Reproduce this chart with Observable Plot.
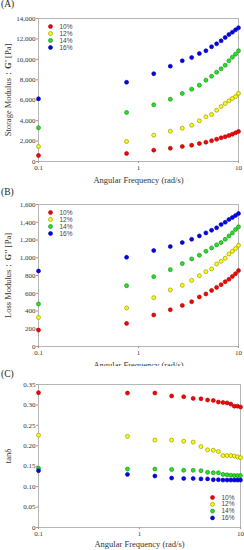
<!DOCTYPE html>
<html><head><meta charset="utf-8">
<script src="https://cdn.jsdelivr.net/npm/d3@7"></script>
<script src="https://cdn.jsdelivr.net/npm/@observablehq/plot@0.6"></script>
<style>
body{margin:0;background:#fff;}
#wrap{position:relative;width:244px;height:550px;overflow:hidden;font-family:"Liberation Serif",serif;}
.panel{position:absolute;left:0;}
.plab{position:absolute;left:1px;font-size:9.5px;color:#222;font-family:"Liberation Serif",serif;}
</style></head>
<body><div id="wrap"></div>
<script>
// Shared angular frequencies (rad/s)
const freq = [0.1, 0.76, 1.42, 2.08, 2.74, 3.4, 4.06, 4.72, 5.38, 6.04, 6.7, 7.36, 8.02, 8.68, 9.34, 10];
const seriesNames = ["10%", "12%", "14%", "16%"];
const fills = ["#ff0000", "#ffff00", "#22e622", "#0000ff"];
const strokes = ["#a00000", "#8a8a00", "#108010", "#000090"];

// (A) Storage modulus G' [Pa]
const storage10 = [590, 780, 1110, 1300, 1470, 1600, 1760, 1890, 2030, 2180, 2320, 2420, 2550, 2670, 2810, 2940];
const storage12 = [1470, 1960, 2575, 2970, 3260, 3550, 3985, 4375, 4600, 5020, 5385, 5680, 5940, 6170, 6360, 6660];
const storage14 = [3300, 4800, 5550, 6100, 6660, 7080, 7470, 7960, 8350, 8740, 9075, 9430, 9860, 10210, 10500, 10840];
const storage16 = [6140, 7760, 8600, 9330, 9860, 10180, 10570, 10840, 11230, 11520, 11810, 12140, 12430, 12660, 12890, 13090];

// (B) Loss modulus G'' [Pa]
const loss10 = [185, 260, 355, 414, 463, 505, 558, 592, 632, 666, 697, 730, 757, 790, 821, 855];
const loss12 = [327, 434, 550, 637, 689, 745, 798, 843, 874, 930, 960, 994, 1043, 1073, 1103, 1140];
const loss14 = [479, 685, 787, 866, 934, 987, 1028, 1073, 1111, 1145, 1171, 1208, 1246, 1280, 1318, 1348];
const loss16 = [851, 1005, 1081, 1126, 1171, 1208, 1246, 1280, 1310, 1337, 1374, 1400, 1431, 1453, 1476, 1498];

// (C) tan delta
const tan10 = [0.330, 0.329, 0.329, 0.322, 0.320, 0.316, 0.315, 0.312, 0.311, 0.307, 0.306, 0.305, 0.302, 0.297, 0.297, 0.295];
const tan12 = [0.226, 0.223, 0.214, 0.214, 0.211, 0.209, 0.198, 0.190, 0.189, 0.186, 0.176, 0.176, 0.176, 0.175, 0.173, 0.171];
const tan14 = [0.145, 0.143, 0.143, 0.142, 0.140, 0.140, 0.139, 0.135, 0.134, 0.134, 0.130, 0.129, 0.128, 0.127, 0.127, 0.127];
const tan16 = [0.139, 0.130, 0.126, 0.121, 0.120, 0.120, 0.119, 0.119, 0.117, 0.117, 0.116, 0.116, 0.116, 0.116, 0.116, 0.116];

// Tick labels
const xTicks = [0.1, 1, 10];
const xTickLabels = ["0.1", "1", "10"];
const yTicksA = [0, 2000, 4000, 6000, 8000, 10000, 12000, 14000];
const yTicksB = [0, 200, 400, 600, 800, 1000, 1200, 1400, 1600];
const yTicksC = [0, 0.05, 0.10, 0.15, 0.20, 0.25, 0.30, 0.35];

const xTitle = "Angular Frequency (rad/s)";

function tidy(arrs) {
  const out = [];
  arrs.forEach((a, si) => a.forEach((v, i) => out.push({x: freq[i], y: v, s: si})));
  return out;
}

function makePanel(cfg) {
  const data = tidy(cfg.series);
  const legendMarks = [];
  seriesNames.forEach((name, i) => {
    legendMarks.push(Plot.dot([name], {frameAnchor: cfg.legAnchor, dx: cfg.legDx, dy: cfg.legDy + cfg.legStep * i,
      r: 2, fill: fills[i], stroke: strokes[i], strokeWidth: 0.6}));
    legendMarks.push(Plot.text([name], {frameAnchor: cfg.legAnchor, dx: cfg.legDx + 9, dy: cfg.legDy + cfg.legStep * i,
      text: d => d, textAnchor: "start", lineAnchor: "middle", fontSize: 6.5, fill: "#444", fontFamily: "Liberation Sans, sans-serif"}));
  });
  const svg = Plot.plot({
    width: 244,
    height: cfg.height,
    marginLeft: 38,
    marginRight: cfg.marginRight,
    marginTop: 18,
    marginBottom: cfg.marginBottom,
    style: {fontFamily: "Liberation Serif, serif", fontSize: "7px", color: "#333", background: "white", overflow: "visible"},
    x: {type: "log", domain: [0.1, 10], axis: null},
    y: {domain: cfg.yDomain, axis: null},
    marks: [
      Plot.frame({stroke: "#b5b5b5", strokeWidth: 1}),
      Plot.axisX({ticks: xTicks, tickFormat: (d) => xTickLabels[xTicks.indexOf(d)], tickSize: 2, tickPadding: 2, label: null, stroke: "#999"}),
      Plot.axisY({ticks: cfg.yTicks, tickFormat: cfg.yFormat, tickSize: 2, tickPadding: 1, label: null, stroke: "#999"}),
      Plot.dot(data, {x: "x", y: "y", r: 2, fill: d => fills[d.s], stroke: d => strokes[d.s], strokeWidth: 0.6}),
      ...legendMarks,
      Plot.text([xTitle], {frameAnchor: "bottom", dy: cfg.xTitleDy, text: d => d, textAnchor: "middle", lineAnchor: "middle", fontSize: 8.5, fill: "#333"}),
      Plot.text([cfg.yTitle], {frameAnchor: "left", dx: -30, rotate: -90, text: d => d, textAnchor: "middle", lineAnchor: "middle", fontSize: 8.5, fill: "#333"})
    ]
  });
  // Bold the G' / G'' portion of the y title
  if (cfg.boldPart) {
    d3.select(svg).selectAll("text").filter(function () { return this.textContent === cfg.yTitle; })
      .each(function () {
        const t = d3.select(this);
        const [pre, post] = cfg.yTitle.split(cfg.boldPart);
        t.text(null);
        t.append("tspan").text(pre);
        t.append("tspan").attr("font-weight", "bold").text(cfg.boldPart);
        t.append("tspan").text(post);
      });
  }
  return svg;
}

const wrap = document.getElementById("wrap");
const fmtThousands = d3.format(",");
const fmtTan = d => d === 0 ? "0" : d3.format(".2f")(d);

const panels = [
  {top: 0, label: "(A)", labelTop: -1, height: 185, marginBottom: 24, marginRight: 6, xTitleDy: 19,
   series: [storage10, storage12, storage14, storage16], yDomain: [0, 14000], yTicks: yTicksA, yFormat: fmtThousands,
   yTitle: "Storage Modulus：G' [Pa]", boldPart: "G'",
   legAnchor: "top-left", legDx: 12, legDy: 8, legStep: 7},
  {top: 186, label: "(B)", labelTop: 187, height: 184, marginBottom: 24, marginRight: 6, xTitleDy: 19,
   series: [loss10, loss12, loss14, loss16], yDomain: [0, 1600], yTicks: yTicksB, yFormat: fmtThousands,
   yTitle: "Loss Modulus：G'' [Pa]", boldPart: "G''",
   legAnchor: "top-left", legDx: 12, legDy: 8, legStep: 7},
  {top: 366, label: "(C)", labelTop: 369, height: 183, marginBottom: 22, marginRight: 4, xTitleDy: 17,
   series: [tan10, tan12, tan14, tan16], yDomain: [0, 0.35], yTicks: yTicksC, yFormat: fmtTan,
   yTitle: "tanδ", boldPart: null,
   legAnchor: "bottom-right", legDx: -28, legDy: -30, legStep: 6.8}
];

panels.forEach(cfg => {
  const div = document.createElement("div");
  div.className = "panel";
  div.style.top = cfg.top + "px";
  div.appendChild(makePanel(cfg));
  wrap.appendChild(div);
  const lab = document.createElement("div");
  lab.className = "plab";
  lab.style.top = cfg.labelTop + "px";
  lab.textContent = cfg.label;
  wrap.appendChild(lab);
});
</script>
</body></html>
